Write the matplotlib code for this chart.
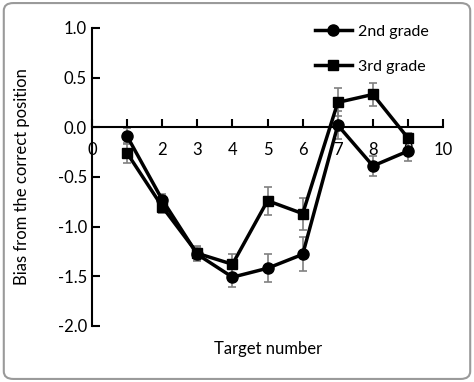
import matplotlib
matplotlib.use("Agg")
import matplotlib.pyplot as plt
from matplotlib.patches import FancyBboxPatch

plt.rcParams['font.family'] = ['Lato', 'DejaVu Sans']

targets = [1, 2, 3, 4, 5, 6, 7, 8, 9]
grade2 = [-0.09, -0.73, -1.28, -1.51, -1.42, -1.28, 0.02, -0.39, -0.24]
grade2_err = [0.08, 0.06, 0.07, 0.10, 0.14, 0.17, 0.14, 0.10, 0.10]
grade3 = [-0.26, -0.80, -1.27, -1.38, -0.74, -0.87, 0.25, 0.33, -0.11]
grade3_err = [0.10, 0.06, 0.07, 0.10, 0.14, 0.16, 0.14, 0.12, 0.05]
yticks = [1.0, 0.5, 0.0, -0.5, -1.0, -1.5, -2.0]

fig = plt.figure(figsize=(4.74, 3.82), dpi=100)
ax = fig.add_axes([0.194, 0.147, 0.741, 0.78])

ax.errorbar(targets, grade2, yerr=grade2_err, fmt='none', ecolor='#808080',
            elinewidth=1.2, capsize=3, capthick=1.2, zorder=2)
ax.errorbar(targets, grade3, yerr=grade3_err, fmt='none', ecolor='#808080',
            elinewidth=1.2, capsize=3, capthick=1.2, zorder=2)
ax.plot(targets, grade2, '-o', color='black', lw=2.5, markersize=8, label='2nd grade', zorder=3)
ax.plot(targets, grade3, '-s', color='black', lw=2.5, markersize=6.5, label='3rd grade', zorder=3)

ax.set_xlim(0, 10)
ax.set_ylim(-2.0, 1.0)
ax.spines['top'].set_visible(False)
ax.spines['right'].set_visible(False)
ax.spines['bottom'].set_position(('data', 0))
ax.spines['bottom'].set_linewidth(1.5)
ax.spines['left'].set_linewidth(1.5)

ax.set_xticks(range(0, 11))
ax.set_xticklabels(['0', '', '2', '3', '4', '5', '6', '7', '8', '9', '10'])
ax.tick_params(axis='x', direction='in', length=6, width=1.5, labelsize=12, pad=11)
ax.set_yticks(yticks)
ax.set_yticklabels(['%.1f' % v for v in yticks])
ax.tick_params(axis='y', direction='in', length=6, width=1.5, labelsize=12)

ax.set_xlabel('Target number', fontsize=12)
ax.xaxis.set_label_coords(0.5, -0.05)
ax.set_ylabel('Bias from the correct position', fontsize=12)
ax.yaxis.set_label_coords(-0.175, 0.5)

ax.legend(loc='upper right', frameon=False, fontsize=11.5, handlelength=2.3,
          handletextpad=0.4, bbox_to_anchor=(1.0, 1.06), labelspacing=1.3)

fig.patches.append(FancyBboxPatch((0.008, 0.008), 0.984, 0.984, boxstyle='round,pad=0,rounding_size=0.02',
                                  transform=fig.transFigure, fill=False, edgecolor='#9a9a9a', lw=1.5))

fig.savefig('out.png', dpi=100)
